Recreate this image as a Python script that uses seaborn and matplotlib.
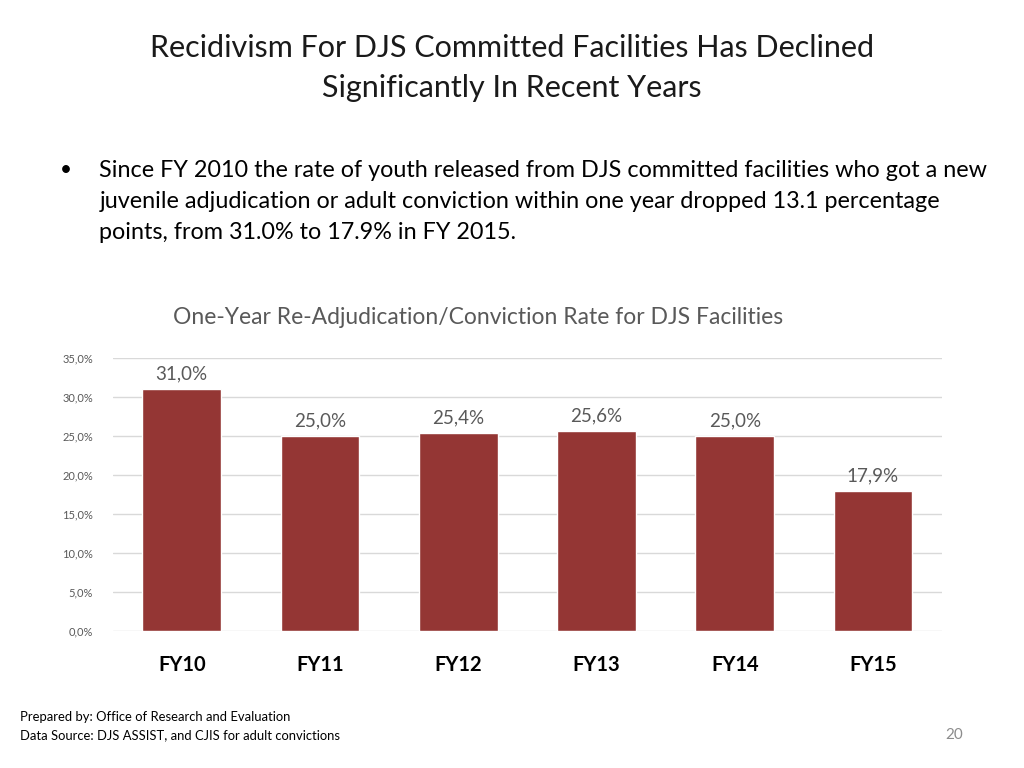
import matplotlib
matplotlib.use("Agg")
import matplotlib.pyplot as plt
import seaborn as sns
import pandas as pd
from matplotlib.ticker import FuncFormatter

categories = ["FY10", "FY11", "FY12", "FY13", "FY14", "FY15"]
rates = [31.0, 25.0, 25.4, 25.6, 25.0, 17.9]
label_texts = ["31,0%", "25,0%", "25,4%", "25,6%", "25,0%", "17,9%"]
yticks = [0, 5, 10, 15, 20, 25, 30, 35]

df = pd.DataFrame({"year": categories, "rate": rates})

sns.set_theme(style="white")
plt.rcParams["font.family"] = ["Lato", "DejaVu Sans"]

fig = plt.figure(figsize=(10.24, 7.68), dpi=100)
ax = fig.add_axes([0.110, 0.178, 0.810, 0.356])

bar_color = "#943634"
sns.barplot(data=df, x="year", y="rate", color=bar_color, width=0.57,
            saturation=1, ax=ax)

ax.set_ylim(0, 35)
ax.set_yticks(yticks)
ax.yaxis.set_major_formatter(FuncFormatter(lambda v, p: f"{v:.1f}".replace(".", ",") + "%"))
ax.grid(axis="y", color="#d9d9d9", linewidth=1)
ax.set_axisbelow(True)
for s in ax.spines.values():
    s.set_visible(False)
ax.set_xlabel("")
ax.set_ylabel("")
ax.tick_params(axis="y", labelsize=8, colors="#595959", length=0, pad=14)
ax.tick_params(axis="x", labelsize=14.5, length=0, pad=17)
for t in ax.get_xticklabels():
    t.set_fontweight("bold")
    t.set_color("#000000")

for p, txt in zip(ax.patches, label_texts):
    ax.annotate(txt, (p.get_x() + p.get_width() / 2, p.get_height()),
                xytext=(0, 5), textcoords="offset points",
                ha="center", va="bottom", fontsize=13.5, color="#595959")

fig.text(0.500, 0.938, "Recidivism For DJS Committed Facilities Has Declined",
         ha="center", va="center", fontsize=22, color="#1a1a1a")
fig.text(0.500, 0.885, "Significantly In Recent Years",
         ha="center", va="center", fontsize=22, color="#1a1a1a")

fig.text(0.058, 0.778, "\u2022", ha="left", va="center", fontsize=15, color="#000000")
bullet_lines = [
    "Since FY 2010 the rate of youth released from DJS committed facilities who got a new",
    "juvenile adjudication or adult conviction within one year dropped 13.1 percentage",
    "points, from 31.0% to 17.9% in FY 2015.",
]
for i, line in enumerate(bullet_lines):
    fig.text(0.097, 0.778 - i * 0.0405, line, ha="left", va="center",
             fontsize=16.8, color="#000000")

fig.text(0.467, 0.587, "One-Year Re-Adjudication/Conviction Rate for DJS Facilities",
         ha="center", va="center", fontsize=16.5, color="#595959")

fig.text(0.020, 0.066, "Prepared by: Office of Research and Evaluation",
         ha="left", va="center", fontsize=9.4, color="#000000")
fig.text(0.020, 0.043, "Data Source: DJS ASSIST, and CJIS for adult convictions",
         ha="left", va="center", fontsize=9.4, color="#000000")
fig.text(0.923, 0.043, "20", ha="left", va="center", fontsize=11, color="#8c8c8c")

fig.savefig("out.png", dpi=100)
